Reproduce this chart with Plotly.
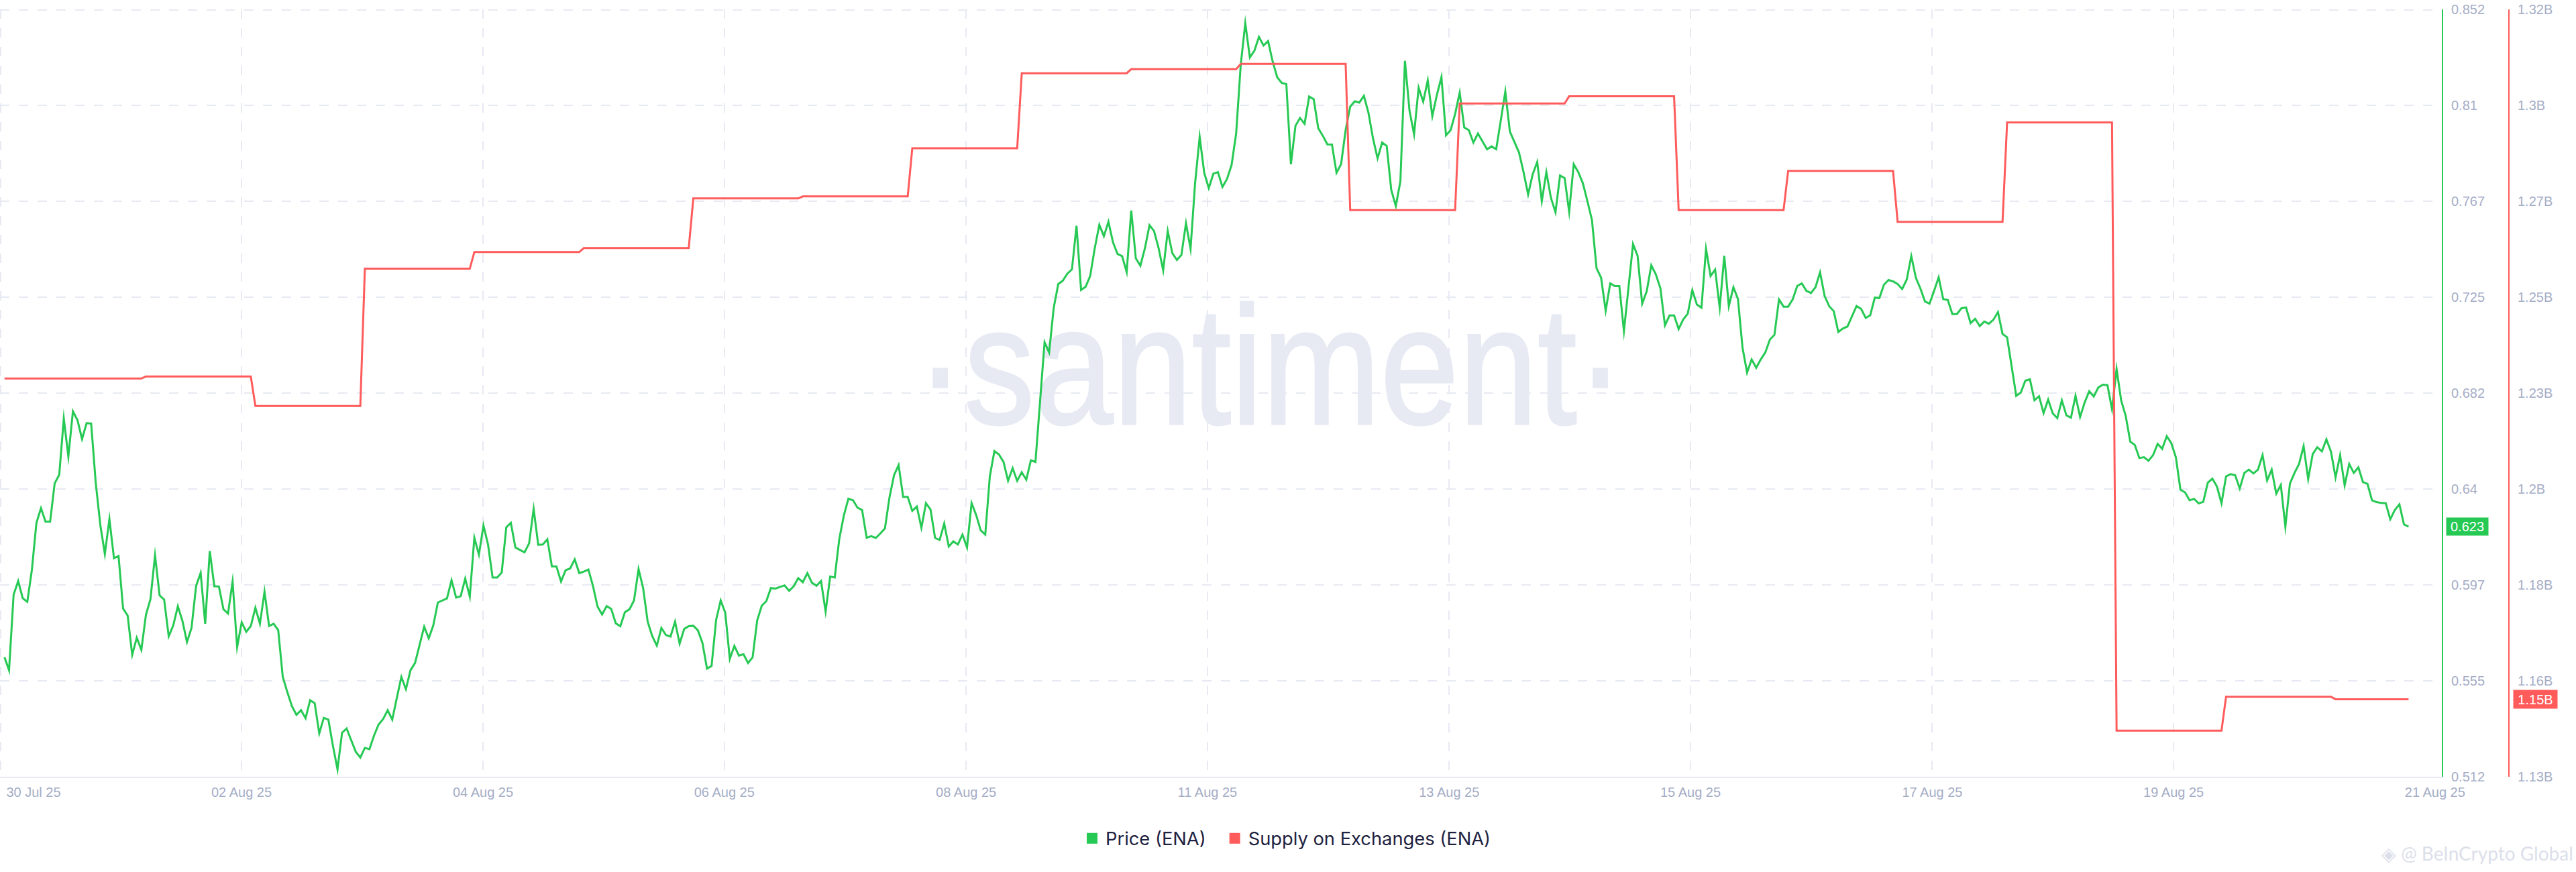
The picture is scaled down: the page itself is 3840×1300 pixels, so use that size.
import plotly.graph_objects as go

# Hourly ENA price
price = [
 .5650,.5592,.5927,.5987,.5911,.5895,.6036,.6245,.6310,.6250,
 .6250,.6420,.6458,.6707,.6539,.6739,.6700,.6616,.6687,.6685,
 .6423,.6236,.6107,.6262,.6088,.6098,.5865,.5834,.5660,.5736,
 .5682,.5837,.5907,.6101,.5924,.5905,.5742,.5791,.5875,.5811,
 .5717,.5779,.5965,.6023,.5798,.6120,.5964,.5963,.5862,.5843,
 .5985,.5695,.5804,.5762,.5788,.5869,.5798,.5940,.5788,.5798,
 .5770,.5563,.5495,.5433,.5394,.5415,.5379,.5459,.5446,.5312,
 .5381,.5373,.5257,.5153,.5315,.5334,.5282,.5231,.5205,.5248,
 .5242,.5302,.5351,.5376,.5415,.5373,.5469,.5562,.5508,.5592,
 .5624,.5701,.5785,.5733,.5791,.5892,.5902,.5910,.5991,.5914,
 .5920,.5998,
 .5918,.6179,.6104,.6233,.6149,.6003,.6003,.6025,.6225,.6245,
 .6136,.6124,.6114,.6154,.6307,.6148,.6149,.6172,.6052,.6052,
 .5985,.6035,.6043,.6083,.6022,.6029,.6038,.5966,.5874,.5839,
 .5876,.5864,.5800,.5787,.5849,.5862,.5901,.6040,.5956,.5807,
 .5743,.5701,.5779,.5748,.5741,.5807,.5710,.5775,.5787,.5789,
 .5769,.5713,.5599,.5611,.5815,.5901,.5847,.5642,.5700,.5657,
 .5663,.5624,.5649,.5812,.5878,.5898,.5956,.5954,.5960,.5968,
 .5944,.5964,.6000,.5982,.6022,.5980,.5966,.5987,.5852,.6007,
 .6003,.6174,.6278,.6352,.6345,.6312,.6302,.6179,.6186,.6178,
 .6198,.6220,.6357,.6456,.6501,.6360,.6360,.6298,.6317,.6223,
 .6332,.6304,.6178,
 .6169,.6242,.6140,.6163,.6149,.6193,.6136,.6333,.6280,.6212,
 .6193,.6451,.6563,.6548,.6515,.6431,.6487,.6431,.6469,.6436,
 .6522,.6515,.6773,.7045,.7000,.7197,.7303,.7318,.7349,.7368,
 .7561,.7277,.7291,.7339,.7462,.7565,.7515,.7579,.7488,.7436,
 .7427,.7356,.7629,.7417,.7384,.7462,.7564,.7538,.7462,.7364,
 .7538,.7440,.7410,.7432,.7573,.7459,.7751,.7955,.7796,.7728,
 .7792,.7799,.7733,.7769,.7831,.7971,.8274,.8459,.8307,.8337,
 .8398,.8360,.8380,.8289,.8219,.8194,.8189,.7834,.8004,.8039,
 .8013,.8134,.8122,.7993,.7960,.7922,.7921,.7796,.7834,.7986,
 .8089,.8113,.8107,.8137,.8062,.7948,.7860,.7930,.7915,.7720,
 .7649,.7758,.8292,
 .8071,.7967,.8173,.8111,.8205,.8047,.8141,.8220,.7962,.7984,
 .8057,.8151,.7997,.7985,.7930,.7970,.7936,.7900,.7913,.7900,
 .8027,.8156,.7979,.7933,.7886,.7799,.7700,.7789,.7844,.7670,
 .7799,.7685,.7621,.7784,.7773,.7623,.7834,.7799,.7750,.7670,
 .7586,.7373,.7331,.7185,
 .7306,.7294,.7294,.7094,.7287,.7480,.7428,.7216,.7271,.7386,
 .7346,.7284,.7120,.7164,.7164,.7104,.7146,.7172,.7276,.7212,
 .7198,.7459,.7339,.7367,.7198,.7428,.7205,.7289,.7237,.7021,
 .6911,.6969,.6932,.6969,.7000,.7057,.7078,.7235,.7203,.7203,
 .7235,.7295,.7306,.7273,.7263,.7289,.7355,.7250,.7205,.7183,
 .7091,.7106,.7115,.7162,.7206,.7193,.7153,.7165,.7243,
 .7241,.7300,.7321,.7315,.7303,.7281,.7323,.7427,.7331,.7283,
 .7226,.7216,.7273,.7333,.7236,.7232,.7170,.7170,.7196,.7199,
 .7130,.7149,.7117,.7137,.7127,.7145,.7179,.7082,.7067,.6936,
 .6808,.6822,.6875,.6881,.6788,.6806,.6731,.6791,.6730,.6709,
 .6788,.6721,.6711,.6808,.6714,.6778,.6828,.6805,.6845,.6857,
 .6855,.6748,.6927,.6788,.6719,.6605,.6590,.6532,.6536,.6520,
 .6545,.6595,.6573,.6629,.6598,.6535,.6392,.6380,.6345,.6351,
 .6331,.6338,.6423,.6441,.6406,.6332,.6451,.6461,.6456,.6397,
 .6466,.6481,.6464,.6481,.6545,.6433,.6481,.6374,.6413,.6228,
 .6419,.6466,.6506,.6585,.6439,.6550,.6580,.6562,.6615,.6560,
 .6446,.6545,.6411,.6506,.6466,.6491,.6426,.6418,.6345,.6337,
 .6333,.6332,.6261,.6302,.6327,.6238,.6228,
]

# Supply on exchanges (billions): value held, and number of hourly samples it is held for
supply_levels = [1.2286,1.2291,1.2218,1.2558,1.2599,1.2609,1.2732,1.2737,1.2856,1.3042,1.3052,
                 1.3065,1.2703,1.2967,1.2985,1.2703,1.2800,1.2674,1.2920,1.1414,1.1498,1.1492]
supply_hours = [31] + [24] * 20 + [17]
supply = [v * 1e9 for v, c in zip(supply_levels, supply_hours) for _ in range(c)]
hours = list(range(len(price)))

x_range = [-0.985, 534.3]
grid_hours = [-0.8, 51.96, 104.9, 157.8, 210.8, 263.7, 316.7, 369.6, 422.6, 475.5]
label_hours = [6.37, 51.96, 104.9, 157.8, 210.8, 263.7, 316.7, 369.6, 422.6, 475.5, 532.8]
x_labels = ["30 Jul 25", "02 Aug 25", "04 Aug 25", "06 Aug 25", "08 Aug 25", "11 Aug 25",
            "13 Aug 25", "15 Aug 25", "17 Aug 25", "19 Aug 25", "21 Aug 25"]

price_ticks = [0.852, 0.8095, 0.767, 0.7245, 0.682, 0.6395, 0.597, 0.5545, 0.512]
price_labels = ["0.852", "0.81", "0.767", "0.725", "0.682", "0.64", "0.597", "0.555", "0.512"]
price_grid = [0.8517, 0.8095, 0.767, 0.7245, 0.682, 0.6395, 0.597, 0.5545]
supply_ticks = [1.32e9, 1.29625e9, 1.2725e9, 1.24875e9, 1.225e9, 1.20125e9, 1.1775e9, 1.15375e9, 1.13e9]
supply_labels = ["1.32B", "1.3B", "1.27B", "1.25B", "1.23B", "1.2B", "1.18B", "1.16B", "1.13B"]

GREEN = "#26C953"
RED = "#FF5B5B"
GRID = "#E8EAF3"
MUTED = "#A5ADC6"
W, H = 3840, 1300
tick_font = dict(family="Liberation Sans, Arial, sans-serif", size=20, color=MUTED)

fig = go.Figure()
fig.add_trace(go.Scatter(
    x=[277.5], y=[0.6870], mode="text", text=["·santiment·"], cliponaxis=False,
    textfont=dict(family="Liberation Sans", size=250, color="#E7EAF3"),
    textposition="middle center", showlegend=False, hoverinfo="skip"))
fig.add_trace(go.Scatter(x=hours, y=price, mode="lines", line=dict(color=GREEN, width=3),
                         name="Price (ENA)", showlegend=False))
fig.add_trace(go.Scatter(x=hours, y=supply, mode="lines", yaxis="y2", line=dict(color=RED, width=3),
                         name="Supply on Exchanges (ENA)", showlegend=False))
# legend keys
fig.add_trace(go.Scatter(x=[None], y=[None], mode="markers", name="Price (ENA)",
                         marker=dict(symbol="square", size=18, color=GREEN)))
fig.add_trace(go.Scatter(x=[None], y=[None], mode="markers", name="Supply on Exchanges (ENA)", yaxis="y2",
                         marker=dict(symbol="square", size=18, color=RED)))

fig.update_layout(
    width=W, height=H, autosize=False, margin=dict(l=0, r=0, t=0, b=0, pad=0, autoexpand=False),
    paper_bgcolor="white", plot_bgcolor="white",
    font=dict(family="Liberation Sans, Arial, sans-serif"),
    xaxis=dict(domain=[0, 3640 / W], range=x_range, anchor="y", showgrid=False, zeroline=False,
               showline=True, linecolor=GRID, linewidth=2,
               tickmode="array", tickvals=label_hours, ticktext=x_labels, ticks="outside",
               ticklen=4, tickcolor="rgba(0,0,0,0)", tickfont=tick_font, tickangle=0,
               minor=dict(tickmode="array", tickvals=grid_hours, ticks="", showgrid=True,
                          gridcolor=GRID, gridwidth=2, griddash="14px,14px")),
    yaxis=dict(domain=[1 - 1158 / H, 1 - 14 / H], range=[0.512, 0.852], anchor="x", side="right",
               showgrid=False, zeroline=False, showline=True, linecolor=GREEN, linewidth=2,
               tickmode="array", tickvals=price_ticks, ticktext=price_labels, ticks="outside",
               ticklen=8, tickcolor="rgba(0,0,0,0)", tickfont=tick_font,
               minor=dict(tickmode="array", tickvals=price_grid, ticks="", showgrid=True,
                          gridcolor=GRID, gridwidth=2, griddash="14px,14px")),
    yaxis2=dict(domain=[1 - 1158 / H, 1 - 14 / H], range=[1.13e9, 1.32e9], overlaying="y", anchor="free",
                position=3740 / W, side="right", showgrid=False, zeroline=False, showline=True,
                linecolor=RED, linewidth=2, tickmode="array", tickvals=supply_ticks, ticktext=supply_labels,
                ticks="outside", ticklen=8, tickcolor="rgba(0,0,0,0)", tickfont=tick_font),
    legend=dict(orientation="h", x=0.5, xanchor="center", y=1 - 1250 / H, yanchor="middle",
                font=dict(family="Inter, Open Sans, Liberation Sans", size=27.3, color="#1E2240"),
                itemwidth=30, bgcolor="rgba(0,0,0,0)"),
    annotations=[
        dict(xref="paper", yref="y", x=3677.6 / W, y=price[-1], xanchor="center", text=f"{price[-1]:.3f}",
             showarrow=False, bgcolor=GREEN, width=62, height=26, borderpad=0, font=dict(color="white", size=20)),
        dict(xref="paper", yref="y2", x=3779 / W, y=supply[-1], xanchor="center", text="1.15B",
             showarrow=False, bgcolor=RED, width=65, height=27, borderpad=0, font=dict(color="white", size=20)),
        dict(xref="paper", yref="paper", x=3838 / W, y=1 - 1272 / H, xanchor="right", yanchor="middle",
             text="◈ @ BeInCrypto Global", showarrow=False,
             font=dict(family="Lato, Liberation Sans", size=28, color="#DCDFEA")),
    ],
)
post = """
document.body.style.margin='0';
document.querySelectorAll('.textpoint text').forEach(function(t){
  var cx = parseFloat(t.getAttribute('x'));
  t.setAttribute('transform','translate('+cx+',0) scale(0.843,1) translate('+(-cx)+',0)');
  t.style.stroke='#E7EAF3'; t.style.strokeWidth='3px';
});
document.querySelectorAll('.js-line').forEach(function(p){
  p.style.strokeLinejoin='miter'; p.style.strokeMiterlimit='10';
});
[-11, 7].forEach(function(dx, i){
  var g = document.querySelectorAll('.legend .traces')[i];
  if (g) { g.setAttribute('transform', 'translate(' + dx + ',0) ' + (g.getAttribute('transform') || '')); }
});
"""
fig.write_html("out.html", post_script=post, config={"displayModeBar": False})
